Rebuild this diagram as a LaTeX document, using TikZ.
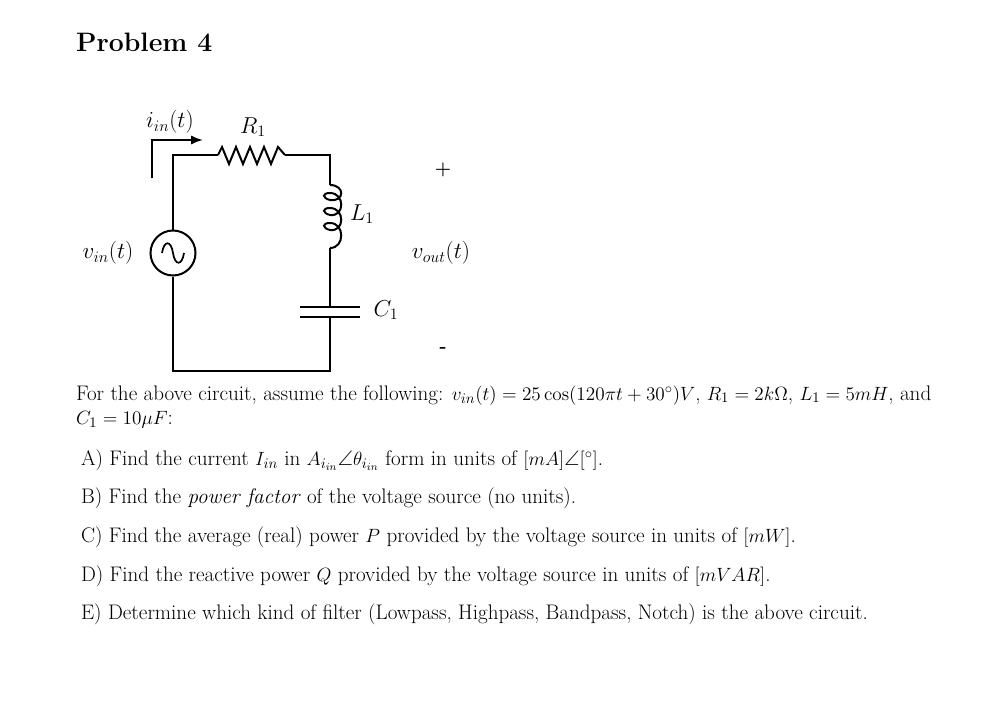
\documentclass[tikz,border=0pt]{standalone}
\usepackage{amsmath,amssymb}
\usetikzlibrary{arrows.meta}
\begin{document}
\begin{tikzpicture}[x=0.75pt,y=-0.75pt,line width=1.5pt,
  lbl/.style={font=\fontsize{17}{20}\selectfont,inner sep=0pt},
  txt/.style={font=\fontsize{15.8}{19}\selectfont,anchor=west,inner sep=0pt}]
\useasboundingbox (0,0) rectangle (987,721);
\node[anchor=west,inner sep=0pt,font=\fontsize{20}{24}\selectfont\bfseries] (title) at (75,42) {Problem 4};
% circuit
\coordinate (tl) at (173,155);
\coordinate (bl) at (173,371);
\coordinate (br) at (330,371);
\coordinate (tr) at (330,155);
\node[circle,draw,minimum size=45pt*0.75,inner sep=0pt] (src) at (173,253) {};
\draw[line width=1.3pt] (162,253) .. controls (164,240) and (171,240) .. (173,253) .. controls (175,266) and (182,266) .. (184,253);
\coordinate (ra) at (218,155); \coordinate (rb) at (285,155);
\coordinate (la) at (330,185); \coordinate (lb) at (330,248);
\coordinate (ca) at (330,307); \coordinate (cb) at (330,317);
\draw (src.north) -- (tl) -- (ra);
\draw[line join=miter] (ra) -- (222,147) -- (229,164) -- (236,147) -- (243,164) -- (250,147) -- (257,164) -- (264,147) -- (271,164) -- (278,147) -- (rb);
\draw (rb) -- (tr) -- (la);
\draw (la) .. controls (345,185) and (345,202) .. (330,200)
  .. controls (322,198) and (322,193) .. (330,193)
  .. controls (345,193) and (345,217) .. (330,215)
  .. controls (322,213) and (322,208) .. (330,208)
  .. controls (345,208) and (345,232) .. (330,230)
  .. controls (322,228) and (322,223) .. (330,223)
  .. controls (345,223) and (345,248) .. (lb);
\draw (lb) -- (ca);
\draw (300,307) -- (360,307);
\draw (300,317) -- (360,317);
\draw (cb) -- (br) -- (bl) -- (src.south);
% current arrow
\coordinate (ia) at (152,178);
\coordinate (ib) at (203,140);
\draw[-{Latex[length=9pt,width=7pt]}] (ia) |- (ib);
\node[lbl] (iin) at (170,122) {$i_{in}(t)$};
\node[lbl] (R1) at (253,127) {$R_1$};
\node[lbl] (L1) at (362,214) {$L_1$};
\node[lbl] (C1) at (386,310) {$C_1$};
\node[lbl] (vin) at (108,253) {$v_{in}(t)$};
\node[lbl] (vout) at (441,253) {$v_{out}(t)$};
\node[lbl,font=\fontsize{14}{16}\selectfont\bfseries] (plus) at (443,170) {+};
\node[lbl,font=\fontsize{14}{16}\selectfont\bfseries] (minus) at (443,350) {-};
% text
\node[txt] (p1) at (75,395) {For the above circuit, assume the following: $v_{in}(t)=25\cos(120\pi t+30^\circ)V$, $R_1=2k\Omega$, $L_1=5mH$, and};
\node[txt] (p2) at (75,420) {$C_1=10\mu F$:};
\node[txt] (a) at (80,460) {A) Find the current $I_{in}$ in $A_{i_{in}}\angle\theta_{i_{in}}$ form in units of $[mA]\angle[^\circ]$.};
\node[txt] (b) at (80,498) {B) Find the \emph{power factor} of the voltage source (no units).};
\node[txt] (c) at (80,537) {C) Find the average (real) power $P$ provided by the voltage source in units of $[mW]$.};
\node[txt] (d) at (80,576) {D) Find the reactive power $Q$ provided by the voltage source in units of $[mVAR]$.};
\node[txt] (e) at (80,614) {E) Determine which kind of filter (Lowpass, Highpass, Bandpass, Notch) is the above circuit.};
\end{tikzpicture}
\end{document}
